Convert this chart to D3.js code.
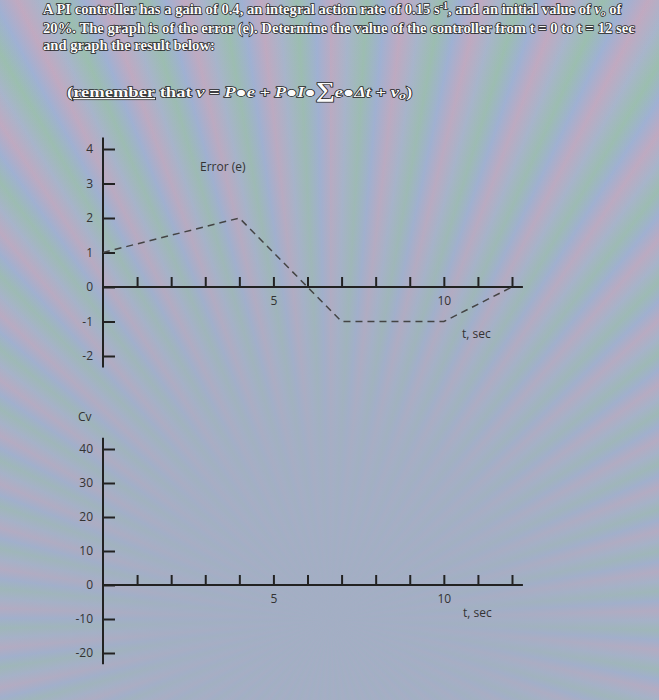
<!DOCTYPE html>
<html>
<head>
    <meta charset="utf-8">
    <title>PI controller</title>
    <style>
        body{
            margin:0;
            background:
                radial-gradient(circle at 330px 600px, rgba(163,174,196,0.97) 0px, rgba(163,174,196,0.85) 170px, rgba(163,174,196,0.3) 420px, rgba(163,174,196,0.05) 600px),
                repeating-conic-gradient(from 0deg at 330px 620px, #c2a9c0 0deg, #a8b5cb 1.7deg, #9bbfae 3.4deg, #9fb1d4 5.1deg, #c2a9c0 6.8deg);
        }
        svg{ display:block; }
        .axis text{ font-family:"Open Sans", sans-serif; font-size:12px; fill:#333; }
        .axis line{ stroke:#222; stroke-width:2; }
        .lbl{ font-family:"Open Sans", sans-serif; font-size:12px; fill:#333; }
        .title{ font-family:"Liberation Serif", serif; font-weight:bold; font-size:14.5px; fill:#fbfbfb;
                stroke:#262626; stroke-width:1.5; paint-order:stroke; }
    </style>
</head>
<body>
    <svg width="659" height="700"></svg>
    <script src="https://d3js.org/d3.v7.min.js"></script>
    <script>
        // error graph (given)
        const errTime = [0, 4, 6, 7, 10, 12];
        const errValue = [1, 2, 0, -1, -1, 0];
        const timeTicks = [1,2,3,4,5,6,7,8,9,10,11,12];
        const errTicks = [-2,-1,0,1,2,3,4];
        const cvTicks = [-20,-10,0,10,20,30,40];

        const svg = d3.select('svg');

        // squeeze a text line horizontally so it spans the given width
        const fitLine = (x0, y0, width) => {
            const g = svg.append('g');
            const t = g.append('text').attr('class','title').attr('x',0).attr('y',0);
            return {t, done: () => {
                const w = t.node().getComputedTextLength();
                g.attr('transform',`translate(${x0},${y0}) scale(${width / w},1)`);
            }};
        };

        const l1 = fitLine(43, 14, 579);
        l1.t.append('tspan').text('A PI controller has a gain of 0.4, an integral action rate of 0.15 s');
        l1.t.append('tspan').attr('dy',-5).attr('font-size',10).text('-1');
        l1.t.append('tspan').attr('dy',5).text(', and an initial value of ');
        l1.t.append('tspan').attr('font-style','italic').text('v');
        l1.t.append('tspan').attr('dy',1.5).attr('font-size',9).attr('font-style','italic').text('o');
        l1.t.append('tspan').attr('dy',-1.5).text(' of');
        l1.done();

        const l2 = fitLine(43, 33, 592);
        l2.t.text('20%.  The graph is of the error (e).  Determine the value of the controller from t = 0 to t = 12 sec');
        l2.done();

        const l3 = fitLine(43, 50, 172);
        l3.t.text('and graph the result below:');
        l3.done();

        const f = fitLine(67, 97, 345);
        f.t.append('tspan').text('(');
        f.t.append('tspan').attr('text-decoration','underline').text('remember');
        f.t.append('tspan').text(' that ');
        f.t.append('tspan').attr('font-style','italic').text('v = P\u25CFe + P\u25CFI\u25CF');
        f.t.append('tspan').attr('font-size',21).text('\u2211');
        f.t.append('tspan').attr('font-style','italic').text('e\u25CF\u0394t + v');
        f.t.append('tspan').attr('font-size',11).attr('dy',2).attr('font-style','italic').text('o');
        f.t.append('tspan').attr('dy',-2).text(')');
        f.done();

        const x = d3.scaleLinear().domain([0,12]).range([103,512]);

        const drawAxes = (xs, ys, yTicks) => {
            const gy = svg.append('g').attr('class','axis')
                .attr('transform',`translate(${xs(0)},0)`)
                .call(d3.axisLeft(ys).tickValues(yTicks).tickSizeInner(-12).tickSizeOuter(0).tickPadding(10)
                    .tickFormat(d => String(d)));
            gy.select('.domain').remove();
            const yd = ys.domain();
            const span = yd[1]-yd[0];
            svg.append('line').attr('stroke','#222').attr('stroke-width',2)
                .attr('x1',xs(0)).attr('x2',xs(0))
                .attr('y1',ys(yd[1]+span*0.055)).attr('y2',ys(yd[0]-span*0.055));

            const gx = svg.append('g').attr('class','axis')
                .attr('transform',`translate(0,${ys(0)})`)
                .call(d3.axisBottom(xs).tickValues(timeTicks).tickSizeInner(-10).tickSizeOuter(0).tickPadding(9)
                    .tickFormat(d => d % 5 === 0 ? String(d) : ''));
            gx.select('.domain').remove();
            svg.append('line').attr('stroke','#222').attr('stroke-width',2)
                .attr('x1',xs(0)).attr('x2',xs(12.32))
                .attr('y1',ys(0)).attr('y2',ys(0));
        };

        // ---- error chart ----
        const yE = d3.scaleLinear().domain([-2,4]).range([356,149]);
        drawAxes(x, yE, errTicks);

        svg.append('path')
            .datum(errTime.map((t,i) => [t, errValue[i]]))
            .attr('fill','none').attr('stroke','#444').attr('stroke-width',1.5)
            .attr('stroke-dasharray','7,5')
            .attr('d', d3.line().x(d => x(d[0])).y(d => yE(d[1])));

        svg.append('text').attr('class','lbl').attr('x',200).attr('y',171).text('Error  (e)');
        svg.append('text').attr('class','lbl').attr('x',462).attr('y',338).text('t, sec');

        // ---- controller output chart (empty, to be filled) ----
        const yC = d3.scaleLinear().domain([-20,40]).range([653,449]);
        drawAxes(x, yC, cvTicks);

        svg.append('text').attr('class','lbl').attr('x',78).attr('y',421).text('Cv');
        svg.append('text').attr('class','lbl').attr('x',463).attr('y',617).text('t, sec');
    </script>
</body>
</html>
